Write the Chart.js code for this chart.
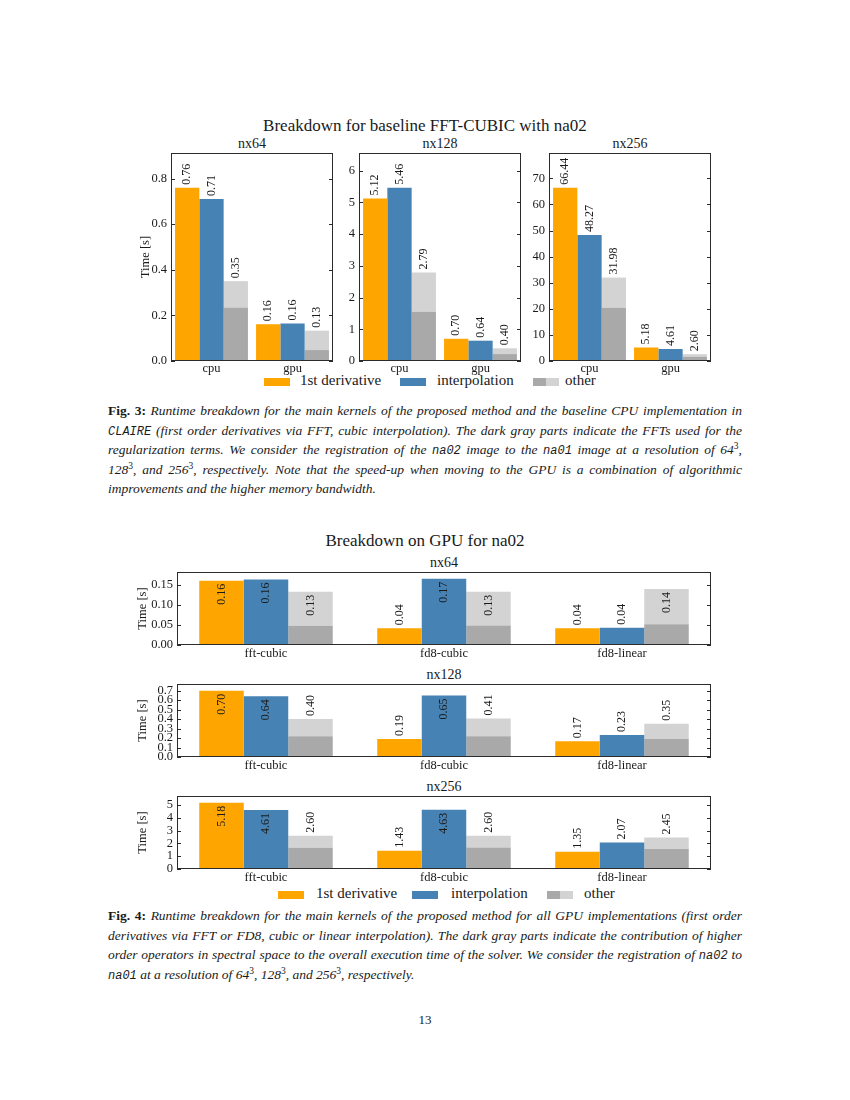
<!DOCTYPE html>
<html>
<head>
<meta charset="utf-8">
<title>Runtime breakdown</title>
<script src="https://cdn.jsdelivr.net/npm/chart.js@4.4.1/dist/chart.umd.min.js"></script>
<style>
  html, body { margin: 0; padding: 0; background: #fff; }
  #page { position: relative; width: 850px; height: 1100px; overflow: hidden;
          font-family: "Liberation Serif", "Times New Roman", serif; color: #1a1a1a; }
  .t { position: absolute; white-space: nowrap; }
  .center { text-align: center; }
  .title { font-size: 17px; line-height: 20px; }
  .sub { font-size: 14px; line-height: 16px; }
  .sw { position: absolute; height: 8px; width: 26px; }
  .leg { font-size: 15px; line-height: 18px; }
  .cap { font-size: 13.5px; line-height: 16px; font-style: italic; left: 108px; }
  .cap b { font-style: normal; }
  .tt { font-family: "Liberation Mono", "DejaVu Sans Mono", monospace; font-size: 12px; font-style: italic; }
  .cap sup { font-size: 9.5px; line-height: 0; vertical-align: 5px; font-style: normal; }
</style>
</head>
<body>
<div id="page">
  <div class="t title center" style="left:0;width:850px;top:116px">Breakdown for baseline FFT-CUBIC with na02</div>

  <div class="sw" style="left:264px;top:378px;background:#ffa500"></div>
  <div class="t leg" style="left:300px;top:371px">1st derivative</div>
  <div class="sw" style="left:400px;top:378px;background:#4682b4"></div>
  <div class="t leg" style="left:437px;top:371px">interpolation</div>
  <div class="sw" style="left:533px;top:378px;background:linear-gradient(to right,#a9a9a9 50%,#d3d3d3 50%)"></div>
  <div class="t leg" style="left:565px;top:371px">other</div>

  <div class="t cap jl" style="top:403px"><b>Fig. 3:</b> Runtime breakdown for the main kernels of the proposed method and the baseline CPU implementation in</div>
  <div class="t cap jl" style="top:423px"><span class="tt">CLAIRE</span> (first order derivatives via FFT, cubic interpolation). The dark gray parts indicate the FFTs used for the</div>
  <div class="t cap jl" style="top:442px">regularization terms. We consider the registration of the <span class="tt">na02</span> image to the <span class="tt">na01</span> image at a resolution of 64<sup>3</sup>,</div>
  <div class="t cap jl" style="top:462px">128<sup>3</sup>, and 256<sup>3</sup>, respectively. Note that the speed-up when moving to the GPU is a combination of algorithmic</div>
  <div class="t cap" style="top:481px">improvements and the higher memory bandwidth.</div>

  <div class="t title center" style="left:0;width:850px;top:531px">Breakdown on GPU for na02</div>

  <div class="sw" style="left:278px;top:891px;background:#ffa500"></div>
  <div class="t leg" style="left:316px;top:884px">1st derivative</div>
  <div class="sw" style="left:412px;top:891px;background:#4682b4"></div>
  <div class="t leg" style="left:451px;top:884px">interpolation</div>
  <div class="sw" style="left:547px;top:891px;background:linear-gradient(to right,#a9a9a9 50%,#d3d3d3 50%)"></div>
  <div class="t leg" style="left:584px;top:884px">other</div>

  <div class="t cap jl" style="top:908px"><b>Fig. 4:</b> Runtime breakdown for the main kernels of the proposed method for all GPU implementations (first order</div>
  <div class="t cap jl" style="top:928px">derivatives via FFT or FD8, cubic or linear interpolation). The dark gray parts indicate the contribution of higher</div>
  <div class="t cap jl" style="top:947px">order operators in spectral space to the overall execution time of the solver. We consider the registration of <span class="tt">na02</span> to</div>
  <div class="t cap" style="top:967px"><span class="tt">na01</span> at a resolution of 64<sup>3</sup>, 128<sup>3</sup>, and 256<sup>3</sup>, respectively.</div>

  <div class="t center" style="left:0;width:850px;top:1012px;font-size:13px;line-height:16px;color:#1a1a1a">13</div>
</div>

<script>
  var FONT = '"Liberation Serif", "Times New Roman", serif';
  var ORANGE = '#ffa500', BLUE = '#4682b4', DARK = '#a9a9a9', LIGHT = '#d3d3d3';

  // Fig. 3: baseline FFT-CUBIC, cpu vs gpu
  var cpuGpu = ['cpu', 'gpu'];
  var deriv64 = [0.76, 0.161];
  var interp64 = [0.71, 0.164];
  var other64 = [0.35, 0.133];
  var otherFft64 = [0.235, 0.048];
  var deriv128 = [5.12, 0.70];
  var interp128 = [5.46, 0.64];
  var other128 = [2.79, 0.40];
  var otherFft128 = [1.55, 0.218];
  var deriv256 = [66.44, 5.18];
  var interp256 = [48.27, 4.61];
  var other256 = [31.98, 2.60];
  var otherFft256 = [20.4, 1.65];

  // Fig. 4: GPU variants
  var variants = ['fft-cubic', 'fd8-cubic', 'fd8-linear'];
  var gpuDeriv64 = [0.161, 0.042, 0.042];
  var gpuInterp64 = [0.164, 0.166, 0.043];
  var gpuOther64 = [0.133, 0.133, 0.140];
  var gpuOtherFft64 = [0.048, 0.049, 0.052];
  var gpuDeriv128 = [0.70, 0.19, 0.166];
  var gpuInterp128 = [0.64, 0.65, 0.231];
  var gpuOther128 = [0.40, 0.406, 0.35];
  var gpuOtherFft128 = [0.218, 0.218, 0.19];
  var gpuDeriv256 = [5.18, 1.43, 1.35];
  var gpuInterp256 = [4.61, 4.63, 2.07];
  var gpuOther256 = [2.60, 2.60, 2.45];
  var gpuOtherFft256 = [1.65, 1.67, 1.57];

  Chart.defaults.font.family = FONT;
  Chart.defaults.font.size = 12.5;
  Chart.defaults.color = '#1a1a1a';

  var page = document.getElementById('page');

  // frame, inward ticks and rotated value labels
  function framePlugin(values) {
    return {
      id: 'frame',
      afterDatasetsDraw: function(chart) {
        var ctx = chart.ctx, a = chart.chartArea, y = chart.scales.y;
        ctx.save();
        ctx.font = '12px ' + FONT;
        ctx.fillStyle = '#1a1a1a';
        ctx.textBaseline = 'middle';
        [0, 1, 3].forEach(function(ds, k) {
          chart.getDatasetMeta(ds).data.forEach(function(bar, j) {
            var txt = values[k][j].toFixed(2);
            var tw = ctx.measureText(txt).width;
            var gap = 3;
            ctx.save();
            if (bar.y - a.top >= tw + 2 * gap) {
              ctx.translate(bar.x, bar.y - gap);
              ctx.rotate(-Math.PI / 2);
              ctx.textAlign = 'left';
            } else {
              ctx.translate(bar.x, bar.y + gap);
              ctx.rotate(-Math.PI / 2);
              ctx.textAlign = 'right';
            }
            ctx.fillText(txt, 0, 0);
            ctx.restore();
          });
        });
        ctx.strokeStyle = '#2b2b2b';
        ctx.lineWidth = 1;
        ctx.strokeRect(a.left + 0.5, a.top + 0.5, a.right - a.left - 1, a.bottom - a.top - 1);
        ctx.beginPath();
        y.ticks.forEach(function(t) {
          var py = Math.round(y.getPixelForValue(t.value)) + 0.5;
          ctx.moveTo(a.left, py); ctx.lineTo(a.left + 4, py);
          ctx.moveTo(a.right - 4, py); ctx.lineTo(a.right, py);
        });
        ctx.stroke();
        ctx.restore();
      }
    };
  }

  function panel(p) {
    var padTop = 14, padRight = 4, xH = 18;
    var sub = document.createElement('div');
    sub.className = 't sub center';
    sub.style.cssText = 'left:' + p.left + 'px;width:' + p.w + 'px;top:' + (p.top - 17) + 'px';
    sub.textContent = p.name;
    page.appendChild(sub);

    var cv = document.createElement('canvas');
    cv.width = p.yW + p.w + padRight;
    cv.height = padTop + p.h + xH;
    cv.style.cssText = 'position:absolute;left:' + (p.left - p.yW) + 'px;top:' + (p.top - padTop) + 'px';
    page.appendChild(cv);

    var light = p.other.map(function(v, i) { return v - p.fft[i]; });
    var ymax = Math.max.apply(null, p.deriv.concat(p.interp, p.other)) * p.head;

    return new Chart(cv, {
      type: 'bar',
      data: {
        labels: p.cats,
        datasets: [
          { label: '1st derivative', data: p.deriv, backgroundColor: ORANGE, stack: 'd' },
          { label: 'interpolation', data: p.interp, backgroundColor: BLUE, stack: 'i' },
          { label: 'other (fft)', data: p.fft, backgroundColor: DARK, stack: 'o' },
          { label: 'other', data: light, backgroundColor: LIGHT, stack: 'o' }
        ]
      },
      options: {
        responsive: false,
        animation: false,
        events: [],
        layout: { padding: { top: padTop, right: padRight, left: 0, bottom: 0 } },
        datasets: { bar: { categoryPercentage: p.catPct, barPercentage: 1, borderWidth: 0 } },
        plugins: { legend: { display: false }, tooltip: { enabled: false } },
        scales: {
          x: {
            stacked: true,
            offset: true,
            grid: { display: false, drawTicks: false },
            border: { display: false },
            ticks: { padding: p.xPad, maxRotation: 0, autoSkip: false },
            afterFit: function(s) { s.height = xH; }
          },
          y: {
            stacked: true,
            min: 0,
            max: ymax,
            grid: { display: false, drawTicks: false },
            border: { display: false },
            ticks: {
              stepSize: p.step,
              includeBounds: false,
              autoSkip: false,
              padding: 4,
              callback: function(v) { return v.toFixed(p.dec); }
            },
            title: { display: p.yTitle, text: 'Time [s]', font: { size: 12.5 }, padding: { top: p.tPad, bottom: 0 } },
            afterFit: function(s) { s.width = p.yW; }
          }
        }
      },
      plugins: [framePlugin([p.deriv, p.interp, p.other])]
    });
  }

  // Fig. 3 panels
  panel({ name: 'nx64', cats: cpuGpu, deriv: deriv64, interp: interp64, other: other64, fft: otherFft64,
          left: 171, top: 153, w: 162, h: 208, yW: 36, yTitle: true, tPad: 3, step: 0.2, dec: 1, head: 1.2, catPct: 0.9, xPad: 0 });
  panel({ name: 'nx128', cats: cpuGpu, deriv: deriv128, interp: interp128, other: other128, fft: otherFft128,
          left: 359, top: 153, w: 162, h: 208, yW: 22, yTitle: false, tPad: 0, step: 1, dec: 0, head: 1.2, catPct: 0.9, xPad: 0 });
  panel({ name: 'nx256', cats: cpuGpu, deriv: deriv256, interp: interp256, other: other256, fft: otherFft256,
          left: 549, top: 153, w: 162, h: 208, yW: 24, yTitle: false, tPad: 0, step: 10, dec: 0, head: 1.2, catPct: 0.9, xPad: 0 });

  // Fig. 4 panels
  panel({ name: 'nx64', cats: variants, deriv: gpuDeriv64, interp: gpuInterp64, other: gpuOther64, fft: gpuOtherFft64,
          left: 177, top: 572, w: 534, h: 73, yW: 42, yTitle: true, tPad: 0, step: 0.05, dec: 2, head: 1.1, catPct: 0.75, xPad: 1 });
  panel({ name: 'nx128', cats: variants, deriv: gpuDeriv128, interp: gpuInterp128, other: gpuOther128, fft: gpuOtherFft128,
          left: 177, top: 684, w: 534, h: 73, yW: 42, yTitle: true, tPad: 0, step: 0.1, dec: 1, head: 1.1, catPct: 0.75, xPad: 1 });
  panel({ name: 'nx256', cats: variants, deriv: gpuDeriv256, interp: gpuInterp256, other: gpuOther256, fft: gpuOtherFft256,
          left: 177, top: 796, w: 534, h: 73, yW: 42, yTitle: true, tPad: 0, step: 1, dec: 0, head: 1.1, catPct: 0.75, xPad: 1 });

  // justify caption lines to the text block width
  Array.prototype.forEach.call(document.querySelectorAll('.jl'), function(el) {
    var w = el.getBoundingClientRect().width;
    var n = (el.textContent.match(/ /g) || []).length;
    el.style.wordSpacing = ((634 - w) / n) + 'px';
  });
</script>
</body>
</html>
